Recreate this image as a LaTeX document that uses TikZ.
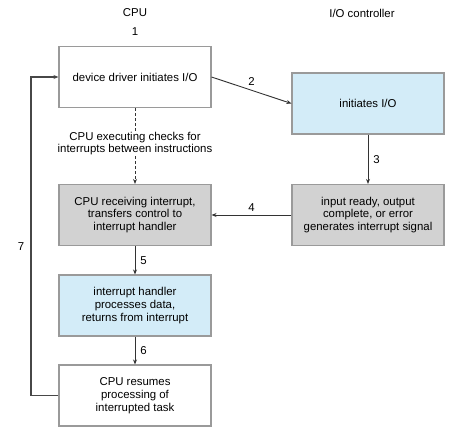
\documentclass[tikz,border=0pt]{standalone}
\usepackage{fontspec}
\setmainfont{Liberation Sans}
\usepackage{xcolor}
\usetikzlibrary{arrows.meta, positioning}

\definecolor{boxline}{HTML}{9A9A9A}
\definecolor{ioblue}{HTML}{D3ECF8}
\definecolor{intgray}{HTML}{D2D2D2}
\definecolor{arrowgray}{HTML}{333333}

\begin{document}
\begin{tikzpicture}[
        x=1pt, y=-1pt,
        font=\fontsize{11.4}{12.8}\selectfont,
        stage/.style={draw=boxline, line width=1.1pt, minimum width=152pt,
            minimum height=61pt, align=center, inner sep=0pt},
        flow/.style={draw=arrowgray, line width=0.9pt,
            -{Stealth[length=5pt, width=4pt]}},
        tag/.style={inner sep=1pt, align=center}
    ]
    \useasboundingbox (0,0) rectangle (474,436);

    % Column headings
    \node[tag] (cpu) at (135, 13) {CPU};
    \node[tag] (ioc) at (362, 13) {I/O controller};
    \node[tag] (n1) at (135, 32) {1};

    % Boxes
    \node[stage, fill=white] (driver) at (135, 77) {device driver initiates I/O};
    \node[stage, fill=ioblue] (ioinit) at (368, 103.5) {initiates I/O};
    \node[stage, fill=intgray] (receive) at (135, 215) {CPU receiving interrupt,\\transfers control to\\interrupt handler};
    \node[stage, fill=intgray] (ready) at (368, 215) {input ready, output\\complete, or error\\generates interrupt signal};
    \node[stage, fill=ioblue] (handler) at (135, 305.5) {interrupt handler\\processes data,\\returns from interrupt};
    \node[stage, fill=white] (resume) at (135, 395.5) {CPU resumes\\processing of\\interrupted task};

    % Polling text between the first two CPU boxes
    \node[tag] (checks) at (135, 143.5) {CPU executing checks for\\interrupts between instructions};

    % Connectors
    \draw[flow] (driver.east) -- node[tag, above, pos=0.5, yshift=3pt] {2} (ioinit.west);
    \draw[draw=arrowgray, line width=0.9pt, dash pattern=on 3pt off 2pt] (driver.south) -- (checks.north);
    \draw[flow, dash pattern=on 3pt off 2pt] (checks.south) -- (receive.north);
    \draw[flow] (ioinit.south) -- node[tag, right, xshift=4pt] {3} (ready.north);
    \draw[flow] (ready.west) -- node[tag, above, yshift=2pt] {4} (receive.east);
    \draw[flow] (receive.south) -- node[tag, right, xshift=4pt] {5} (handler.north);
    \draw[flow] (handler.south) -- node[tag, right, xshift=4pt] {6} (resume.north);

    % Return loop
    \coordinate (loopbot) at (31, 395.5);
    \coordinate (looptop) at (31, 77);
    \draw[flow, draw=arrowgray!90, line width=1.5pt] (resume.west) -- (loopbot) -- (looptop) -- (driver.west);
    \node[tag] (n7) at (21, 247) {7};

\end{tikzpicture}
\end{document}
